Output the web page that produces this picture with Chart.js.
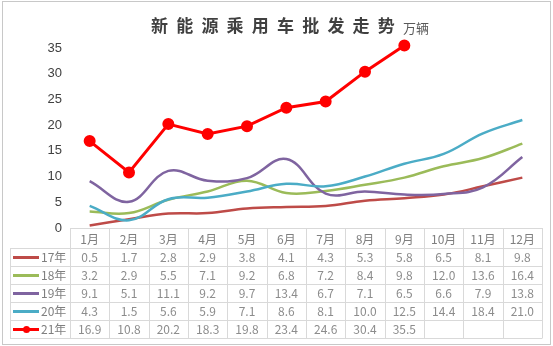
<!DOCTYPE html>
<html><head><meta charset="utf-8">
<script src="https://cdn.jsdelivr.net/npm/chart.js@4.4.0/dist/chart.umd.min.js"></script>
<style>html,body{margin:0;padding:0;background:#fff;overflow:hidden}#wrap{width:553px;height:346px;position:relative}</style>
</head><body><div id="wrap"><canvas id="c" width="553" height="346"></canvas></div>
<script>
const months = ['1月','2月','3月','4月','5月','6月','7月','8月','9月','10月','11月','12月'];
const seriesNames = ['17年','18年','19年','20年','21年'];
const y17 = [0.5,1.7,2.8,2.9,3.8,4.1,4.3,5.3,5.8,6.5,8.1,9.8];
const y18 = [3.2,2.9,5.5,7.1,9.2,6.8,7.2,8.4,9.8,12.0,13.6,16.4];
const y19 = [9.1,5.1,11.1,9.2,9.7,13.4,6.7,7.1,6.5,6.6,7.9,13.8];
const y20 = [4.3,1.5,5.6,5.9,7.1,8.6,8.1,10.0,12.5,14.4,18.4,21.0];
const y21 = [16.9,10.8,20.2,18.3,19.8,23.4,24.6,30.4,35.5,null,null,null];
const yTicks = [0,5,10,15,20,25,30,35];
const titleText = '新能源乘用车批发走势';
const unitText = '万辆';

const colors = ['#BE4B48','#9BBB59','#7F64A0','#4BACC6','#FF0000'];
const seriesData = [y17,y18,y19,y20,y21];

const datasets = seriesData.map((d,i)=>{
  const isRed = i===4;
  return {
    label: seriesNames[i],
    data: d,
    borderColor: colors[i],
    backgroundColor: colors[i],
    borderWidth: isRed ? 3 : 2.5,
    tension: isRed ? 0 : 0.4,
    pointRadius: isRed ? 4.5 : 0,
    pointHoverRadius: isRed ? 4.5 : 0,
    pointBackgroundColor: colors[i],
    pointBorderColor: colors[i],
    order: isRed ? 0 : 5 - i,
    spanGaps: false,
    clip: false
  };
});

const CJK = "'Noto Sans CJK SC','Noto Sans',sans-serif";
const TABLE_TOP = 228, HEADER_BOTTOM = 248, ROW_H = 18, LABEL_LEFT = 10;

const tablePlugin = {
  id: 'tablePlugin',
  beforeDraw(chart){
    const ctx = chart.ctx;
    ctx.save();
    ctx.fillStyle = '#fff';
    ctx.fillRect(0,0,chart.width,chart.height);
    ctx.restore();
  },
  afterDraw(chart){
    const ctx = chart.ctx;
    const x = chart.scales.x;
    const area = chart.chartArea;
    const left = area.left, right = area.right;
    const n = months.length;
    const w = (right-left)/n;
    ctx.save();
    // Title
    ctx.fillStyle = '#404040';
    ctx.font = 'bold 17px ' + CJK;
    ctx.textBaseline = 'middle';
    ctx.textAlign = 'left';
    const chars = Array.from(titleText);
    chars.forEach((ch,i)=>{ ctx.fillText(ch, 151 + i*25.2, 26); });
    ctx.fillStyle = '#595959';
    ctx.font = '13px ' + CJK;
    ctx.fillText(unitText, 403, 28);

    // grid lines
    ctx.strokeStyle = '#d9d9d9';
    ctx.lineWidth = 1;
    ctx.beginPath();
    // header top line
    ctx.moveTo(left, TABLE_TOP+0.5); ctx.lineTo(right, TABLE_TOP+0.5);
    // row lines
    for(let r=0;r<=seriesNames.length;r++){
      const yy = Math.round(HEADER_BOTTOM + r*ROW_H)+0.5;
      ctx.moveTo(LABEL_LEFT, yy); ctx.lineTo(right, yy);
    }
    const bottom = HEADER_BOTTOM + seriesNames.length*ROW_H;
    // vertical lines
    for(let c=0;c<=n;c++){
      const xx = Math.round(left + c*w)+0.5;
      ctx.moveTo(xx, TABLE_TOP); ctx.lineTo(xx, bottom+0.5);
    }
    ctx.moveTo(LABEL_LEFT+0.5, HEADER_BOTTOM); ctx.lineTo(LABEL_LEFT+0.5, bottom+0.5);
    ctx.stroke();

    // header labels
    ctx.fillStyle = '#7f7f7f';
    ctx.font = '12px ' + CJK;
    ctx.textAlign = 'center';
    ctx.textBaseline = 'middle';
    months.forEach((m,i)=>{ ctx.fillText(m, x.getPixelForValue(i), (TABLE_TOP+HEADER_BOTTOM)/2+1); });

    // rows
    seriesData.forEach((d,r)=>{
      const cy = HEADER_BOTTOM + r*ROW_H + ROW_H/2 + 0.5;
      // legend key
      ctx.strokeStyle = colors[r];
      ctx.lineWidth = 3;
      ctx.beginPath(); ctx.moveTo(13, cy); ctx.lineTo(39, cy); ctx.stroke();
      if(r===4){
        ctx.fillStyle = colors[r];
        ctx.beginPath(); ctx.arc(26.5, cy, 3.5, 0, Math.PI*2); ctx.fill();
      }
      ctx.fillStyle = '#7f7f7f';
      ctx.font = '12px ' + CJK;
      ctx.textAlign = 'left';
      ctx.fillText(seriesNames[r], 41, cy);
      ctx.textAlign = 'center';
      ctx.fillStyle = '#8c8c8c';
      d.forEach((v,i)=>{
        if(v===null) return;
        ctx.fillText(v.toFixed(1), x.getPixelForValue(i), cy);
      });
    });

    // outer frame
    ctx.strokeStyle = '#c8c8c8';
    ctx.lineWidth = 1;
    ctx.strokeRect(2.5, 1.5, 548, 343);
    ctx.restore();
  }
};

new Chart(document.getElementById('c'), {
  type: 'line',
  data: { labels: months, datasets },
  options: {
    responsive: false,
    devicePixelRatio: 1,
    animation: false,
    events: [],
    layout: { padding: { left: 0, right: 11, top: 48, bottom: 118 } },
    plugins: { legend: { display: false }, tooltip: { enabled: false }, title: { display: false } },
    scales: {
      x: { display: false, offset: true },
      y: {
        min: 0, max: 35,
        afterFit(scale){ scale.width = 70; },
        afterBuildTicks(scale){ scale.ticks = yTicks.map(v=>({value:v})); },
        grid: { display: false, drawTicks: false },
        border: { display: false },
        ticks: { padding: 8, color: '#404040', font: { size: 13, family: "'Liberation Sans',Arial,sans-serif" } }
      }
    }
  },
  plugins: [tablePlugin]
});
</script>
</body></html>
